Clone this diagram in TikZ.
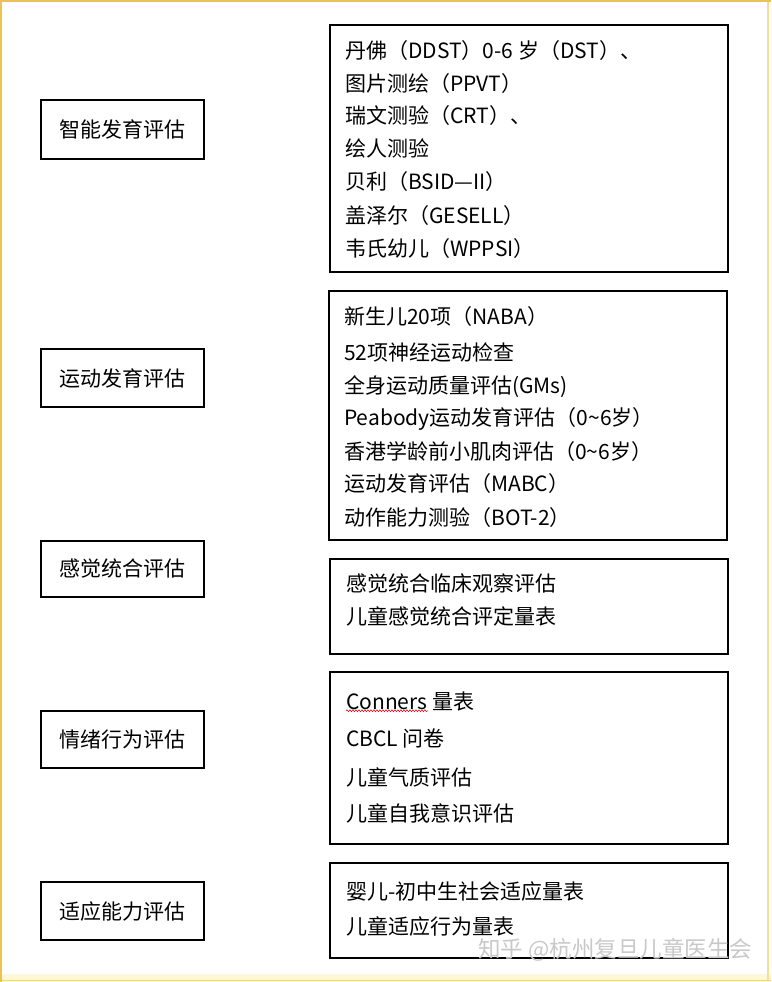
\documentclass[tikz,border=0pt]{standalone}
\usepackage{fontspec}
\setmainfont{Noto Sans CJK SC}
\usetikzlibrary{decorations.pathmorphing}
\definecolor{framegold}{HTML}{E6C35C}
\definecolor{framepale}{HTML}{F3DE96}
\definecolor{bandpale}{HTML}{FFF7D6}
\definecolor{wmgray}{HTML}{C8C8C8}
\tikzset{
  catbox/.style={draw=black, line width=1.6pt, minimum width=163pt, inner sep=0pt,
    font=\fontsize{21}{21}\selectfont},
  listbox/.style={draw=black, line width=1.6pt, minimum width=398pt, inner sep=0pt},
  itemline/.style={anchor=west, inner sep=0pt, text height=16pt, text depth=3pt,
    font=\fontsize{21}{21}\selectfont},
  wavy/.style={draw=red!80!black, line width=0.5pt, decorate,
    decoration={snake, amplitude=1pt, segment length=3pt}},
}
\begin{document}
\begin{tikzpicture}[x=1pt, y=-1pt]
\useasboundingbox (0,0) rectangle (771,982);
% frame
\fill[bandpale] (0,974) rectangle (771,982);
\draw[framepale, line width=1.5pt] (768,1) -- (768,981);
\draw[framegold!70, line width=1.2pt] (0,980.5) -- (771,980.5);
\draw[framegold, line width=2pt] (1,982) -- (1,1) -- (771,1);

% left category boxes
\node[catbox, minimum height=59pt] (c1) at (122.5,129.5) {智能发育评估};
\node[catbox, minimum height=58pt] (c2) at (122.5,378) {运动发育评估};
\node[catbox, minimum height=56pt] (c3) at (122.5,569) {感觉统合评估};
\node[catbox, minimum height=57pt] (c4) at (122.5,739.5) {情绪行为评估};
\node[catbox, minimum height=58pt] (c5) at (122.5,911) {适应能力评估};

% right list boxes
\node[listbox, minimum height=247pt] (r1) at (529,148.5) {};
\node[listbox, minimum height=249pt] (r2) at (528,415.5) {};
\node[listbox, minimum height=95pt] (r3) at (529,606.5) {};
\node[listbox, minimum height=172pt] (r4) at (529,758) {};
\node[listbox, minimum height=95pt] (r5) at (529,910.5) {};

% box 1 items
\node[itemline] (a1) at (345,52) {丹佛（DDST）0-6 岁（DST）、};
\node[itemline] (a2) at (345,85) {图片测绘（PPVT）};
\node[itemline] (a3) at (345,117) {瑞文测验（CRT）、};
\node[itemline] (a4) at (345,150) {绘人测验};
\node[itemline] (a5) at (345,183) {贝利（BSID—II）};
\node[itemline] (a6) at (345,217) {盖泽尔（GESELL）};
\node[itemline] (a7) at (345,250) {韦氏幼儿（WPPSI）};

% box 2 items
\node[itemline] (b1) at (344,318) {新生儿20项（NABA）};
\node[itemline] (b2) at (344,354) {52项神经运动检查};
\node[itemline] (b3) at (344,387) {全身运动质量评估(GMs)};
\node[itemline] (b4) at (344,419) {Peabody运动发育评估（0\textasciitilde 6岁）};
\node[itemline] (b5) at (344,453) {香港学龄前小肌肉评估（0\textasciitilde 6岁）};
\node[itemline] (b6) at (344,485) {运动发育评估（MABC）};
\node[itemline] (b7) at (344,519) {动作能力测验（BOT-2）};

% box 3 items
\node[itemline] (d1) at (346,585) {感觉统合临床观察评估};
\node[itemline] (d2) at (346,618) {儿童感觉统合评定量表};

% box 4 items
\node[itemline] (e1) at (346,703) {Conners};
\node[itemline, anchor=west] (e1b) at ([xshift=5pt]e1.east) {量表};
\draw[wavy] ([yshift=2pt]e1.south west) -- ([yshift=2pt]e1.south east);
\node[itemline] (e2) at (346,740) {CBCL 问卷};
\node[itemline] (e3) at (346,779) {儿童气质评估};
\node[itemline] (e4) at (346,815) {儿童自我意识评估};

% box 5 items
\node[itemline] (f1) at (346,893) {婴儿-初中生社会适应量表};
\node[itemline] (f2) at (346,928) {儿童适应行为量表};

% watermark
\node[itemline, text=wmgray, font=\fontsize{22.5}{22.5}\selectfont] (wm) at (478,951) {知乎 @杭州复旦儿童医生会};
\end{tikzpicture}
\end{document}
